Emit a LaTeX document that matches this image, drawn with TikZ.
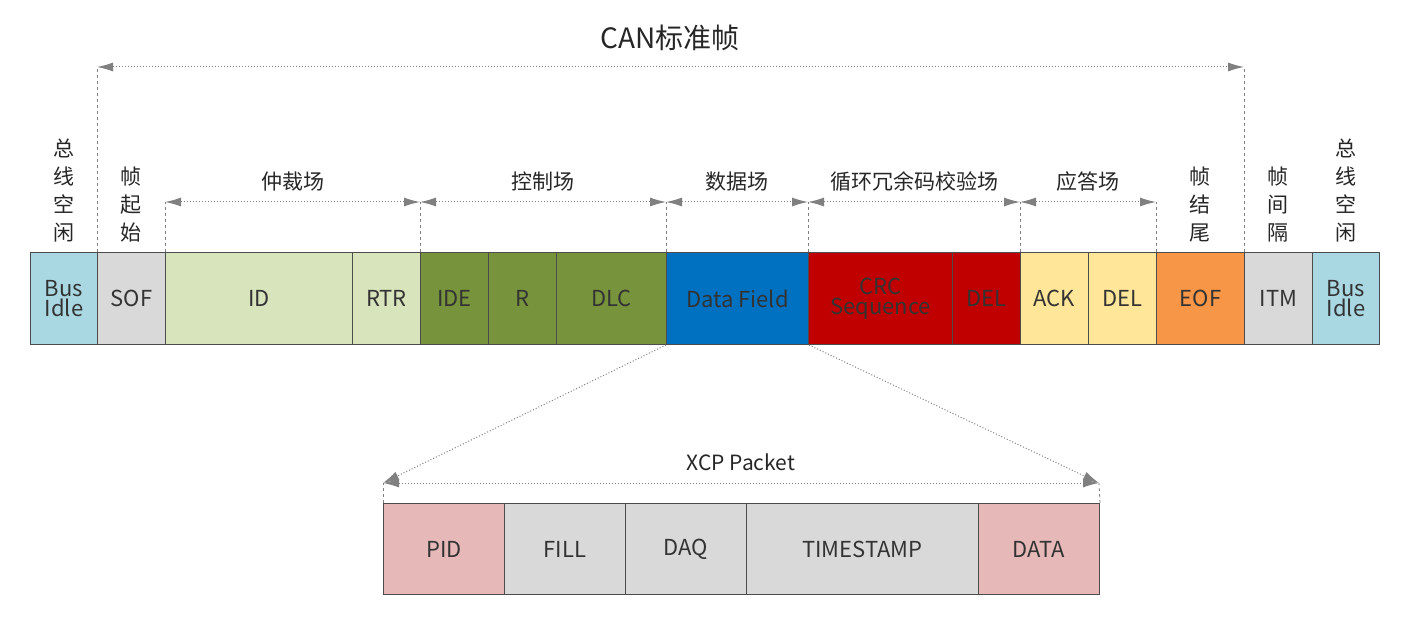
\documentclass[tikz,border=0pt]{standalone}
\usepackage{fontspec}
\setmainfont{Noto Sans CJK SC}
\usetikzlibrary{arrows.meta,calc}
\definecolor{idleblue}{HTML}{A9D8E3}
\definecolor{sofgray}{HTML}{D9D9D9}
\definecolor{idgreen}{HTML}{D8E4BC}
\definecolor{ctrlgreen}{HTML}{77933C}
\definecolor{datablue}{HTML}{0070C0}
\definecolor{crcred}{HTML}{C00000}
\definecolor{ackyellow}{HTML}{FFE699}
\definecolor{eoforange}{HTML}{F79646}
\definecolor{pidpink}{HTML}{E6B9B8}
\tikzset{
  fld/.style={draw=black!70, line width=1pt, anchor=north west, minimum height=92pt,
    inner sep=0pt, align=center, font=\fontsize{22}{24}\selectfont, text=black!80},
  span/.style={gray, dotted, line width=1pt, {Latex[length=16pt,width=9pt]}-{Latex[length=16pt,width=9pt]}},
  guide/.style={gray, dashed, line width=0.8pt},
  lbl/.style={font=\fontsize{21}{23}\selectfont, text=black!85},
  vlbl/.style={font=\fontsize{21}{28}\selectfont, text=black!85, align=center, anchor=south}
}
\begin{document}
\begin{tikzpicture}[x=1pt,y=-1pt]
\useasboundingbox (0,0) rectangle (1403,617);
% CAN frame
\node[fld, fill=idleblue, minimum width=67pt] (idle1) at (30,252) {Bus\\[-4pt]Idle};
\node[fld, fill=sofgray, minimum width=68pt] (sof) at (97,252) {SOF};
\node[fld, fill=idgreen, minimum width=187pt] (id) at (165,252) {ID};
\node[fld, fill=idgreen, minimum width=68pt] (rtr) at (352,252) {RTR};
\node[fld, fill=ctrlgreen, minimum width=68pt] (ide) at (420,252) {IDE};
\node[fld, fill=ctrlgreen, minimum width=68pt] (r) at (488,252) {R};
\node[fld, fill=ctrlgreen, minimum width=110pt] (dlc) at (556,252) {DLC};
\node[fld, fill=datablue, minimum width=142pt] (data) at (666,252) {Data Field};
\node[fld, fill=crcred, minimum width=144pt] (crc) at (808,252) {CRC\\[-4pt]Sequence};
\node[fld, fill=crcred, minimum width=68pt] (del1) at (952,252) {DEL};
\node[fld, fill=ackyellow, minimum width=68pt] (ack) at (1020,252) {ACK};
\node[fld, fill=ackyellow, minimum width=68pt] (del2) at (1088,252) {DEL};
\node[fld, fill=eoforange, minimum width=88pt] (eof) at (1156,252) {EOF};
\node[fld, fill=sofgray, minimum width=68pt] (itm) at (1244,252) {ITM};
\node[fld, fill=idleblue, minimum width=67pt] (idle2) at (1312,252) {Bus\\[-4pt]Idle};
% vertical labels
\node[vlbl] (v1) at (64,246) {总\\线\\空\\闲};
\node[vlbl] (v2) at (131,246) {帧\\起\\始};
\node[vlbl] (v3) at (1200,246) {帧\\结\\尾};
\node[vlbl] (v4) at (1278,246) {帧\\间\\隔};
\node[vlbl] (v5) at (1346,246) {总\\线\\空\\闲};
% guides
\coordinate (t1) at (97,67); \coordinate (t2) at (1244,67);
\draw[guide] (sof.north west) -- (t1);
\draw[guide] (itm.north west) -- (t2);
\draw[span] (t1) -- (t2);
\node[font=\fontsize{28}{30}\selectfont, text=black!85] (title) at (670,38) {CAN标准帧};
\foreach \a/\b/\t [count=\i] in {id/ide/仲裁场, ide/data/控制场, data/crc/数据场, crc/ack/循环冗余码校验场, ack/eof/应答场}{
  \coordinate (fa\i) at ([yshift=50pt]\a.north west);
  \coordinate (fb\i) at ([yshift=50pt]\b.north west);
  \draw[guide] (\a.north west) -- (fa\i);
  \draw[guide] (\b.north west) -- (fb\i);
  \draw[span] (fa\i) -- (fb\i);
  \node[lbl] (fl\i) at ([yshift=20pt]$(fa\i)!0.5!(fb\i)$) {\t};
}
% XCP packet
\node[fld, fill=pidpink, minimum width=121pt, minimum height=91pt] (pid) at (383,503) {PID};
\node[fld, fill=sofgray, minimum width=121pt, minimum height=91pt] (fill) at (504,503) {FILL};
\node[fld, fill=sofgray, minimum width=121pt, minimum height=91pt] (daq) at (625,503) {DAQ};
\node[fld, fill=sofgray, minimum width=232pt, minimum height=91pt] (ts) at (746,503) {TIMESTAMP};
\node[fld, fill=pidpink, minimum width=121pt, minimum height=91pt] (dat) at (978,503) {DATA};
\coordinate (x1) at (383,483); \coordinate (x2) at (1099,483);
\draw[guide] (pid.north west) -- (x1);
\draw[guide] (dat.north east) -- (x2);
\draw[span] (x1) -- (x2);
\draw[gray, dotted, line width=1pt, -{Latex[length=16pt,width=9pt]}] (data.south west) -- (x1);
\draw[gray, dotted, line width=1pt, -{Latex[length=16pt,width=9pt]}] (data.south east) -- (x2);
\node[lbl] (xl) at (741,462) {XCP Packet};
\end{tikzpicture}
\end{document}
